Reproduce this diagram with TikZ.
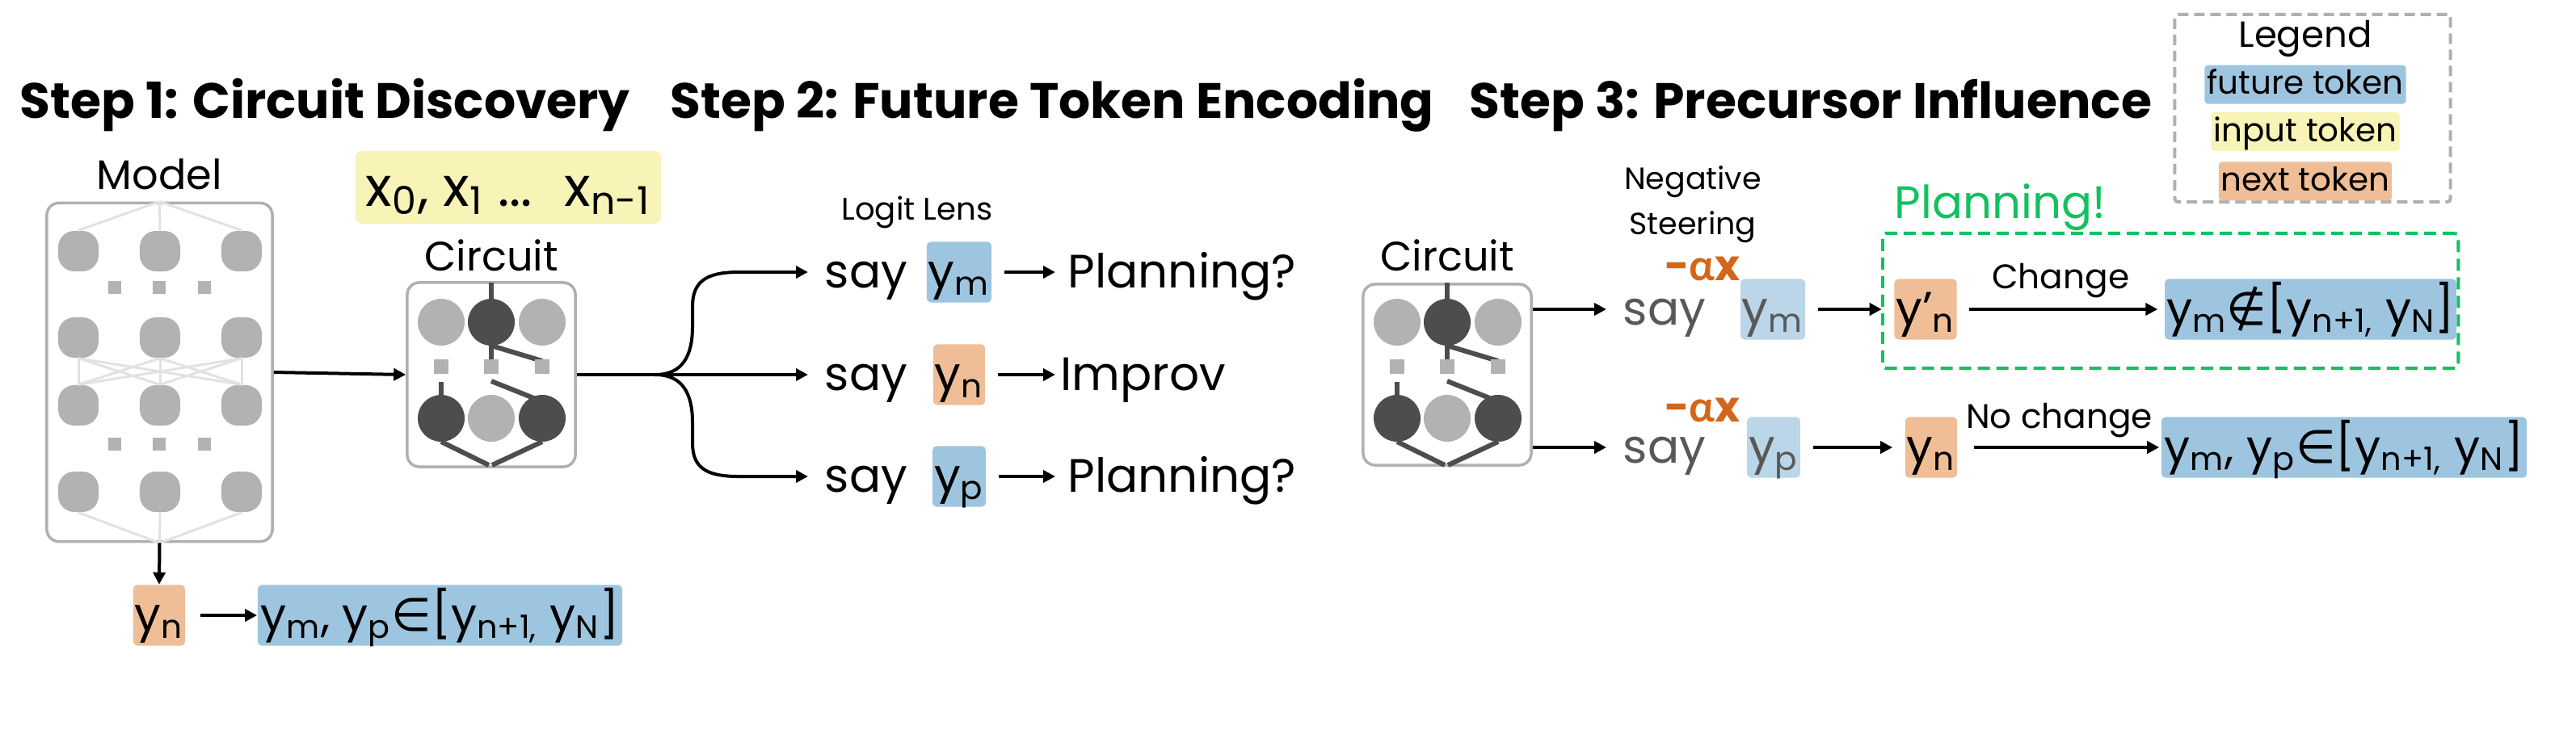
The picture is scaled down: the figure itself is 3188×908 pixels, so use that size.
\documentclass[tikz,border=0pt]{standalone}
\usepackage{fontspec}
\setmainfont{Poppins}
\newfontfamily\greekfont{Lato}
\newfontfamily\mathsymfont{DejaVu Sans}
\usetikzlibrary{arrows.meta,positioning,calc}

\definecolor{futblue}{RGB}{158,197,224}
\definecolor{paleblue}{RGB}{186,214,232}
\definecolor{inyellow}{RGB}{248,243,182}
\definecolor{nextorange}{RGB}{239,190,150}
\definecolor{plangreen}{RGB}{20,192,96}
\definecolor{steerorange}{RGB}{212,102,26}
\definecolor{dotgray}{RGB}{178,178,178}
\definecolor{darkdot}{RGB}{77,77,77}
\definecolor{wiregray}{RGB}{226,226,226}
\definecolor{framegray}{RGB}{176,176,176}
\definecolor{saygray}{RGB}{88,88,88}

% circuit icon, drawn round the centre of its frame
\tikzset{
  circuit/.pic={
    \draw[ckwire] (0,-114) -- (0,-65);
    \draw[ckwire] (0,-36) -- (0,-19);
    \draw[ckwire] (0,-36) -- (63,-17);
    \draw[ckwire] (-62,9) -- (-62,30);
    \draw[ckwire] (0,8) -- (60,32);
    \draw[ckwire] (-62,83) -- (-3,112);
    \draw[ckwire] (1,112) -- (63,83);
    \node[cklight] (-a1) at (-62,-65) {};
    \node[ckdark] (-a2) at (0,-65) {};
    \node[cklight] (-a3) at (63,-65) {};
    \node[cksq] (-s1) at (-62,-10) {};
    \node[cksq] (-s2) at (0,-10) {};
    \node[cksq] (-s3) at (63,-10) {};
    \node[ckdark] (-b1) at (-62,54) {};
    \node[cklight] (-b2) at (0,54) {};
    \node[ckdark] (-b3) at (63,54) {};
  }
}

\begin{document}
\begin{tikzpicture}[x=0.01cm, y=-0.01cm,
    steptitle/.style={anchor=base west, inner sep=0, font=\fontsize{17.5}{21}\selectfont\bfseries},
    boxlabel/.style={inner sep=0, font=\fontsize{14.5}{17}\selectfont},
    smalllabel/.style={inner sep=0, font=\fontsize{11}{16}\selectfont},
    iconframe/.style={draw=framegray, line width=0.035cm, rounded corners=0.15cm},
    mdot/.style={rectangle, rounded corners=0.2cm, fill=dotgray, minimum size=0.5cm, inner sep=0},
    msq/.style={rectangle, fill=dotgray, minimum size=0.16cm, inner sep=0},
    mwire/.style={draw=wiregray, line width=0.03cm},
    cklight/.style={circle, fill=dotgray, minimum size=0.58cm, inner sep=0},
    ckdark/.style={circle, fill=darkdot, minimum size=0.58cm, inner sep=0},
    cksq/.style={rectangle, fill=dotgray, minimum size=0.18cm, inner sep=0},
    ckwire/.style={draw=darkdot, line width=0.06cm},
    arr/.style={-{Triangle[length=0.15cm,width=0.15cm]}, line width=0.04cm},
    gaparr/.style={arr, shorten <=0.15cm, shorten >=0.15cm},
    rowtext/.style={inner xsep=0.2cm, inner ysep=0, text height=0.45cm, text depth=0.06cm, font=\fontsize{16.5}{20}\selectfont},
    tokbox/.style={rounded corners=0.05cm, inner xsep=0.02cm, inner ysep=0, text height=0.45cm, text depth=0.06cm, minimum height=0.75cm, font=\fontsize{16.5}{20}\selectfont},
    restok/.style={tokbox, fill=futblue, font=\fontsize{16.2}{20}\selectfont},
    legtok/.style={rounded corners=0.04cm, inner xsep=0.03cm, inner ysep=0, text height=0.3cm, text depth=0.06cm, minimum height=0.48cm, font=\fontsize{11.5}{14}\selectfont},
    dashbox/.style={line width=0.04cm, rounded corners=0.04cm},
    arrlabel/.style={inner sep=0, font=\fontsize{12}{14}\selectfont},
    steer/.style={anchor=base, inner sep=0, text=steerorange, font=\fontsize{15}{18}\selectfont\bfseries},
]
\useasboundingbox (0,0) rectangle (3188,908);

% Titles
\node[steptitle] (t1) at (24,146) {Step 1: Circuit Discovery};
\node[steptitle] (t2) at (829,146) {Step 2: Future Token Encoding};
\node[steptitle] (t3) at (1818,146) {Step 3: Precursor Influence};

% Legend
\node[dashbox, draw=framegray, dash pattern=on 0.13cm off 0.07cm, minimum width=3.41cm, minimum height=2.32cm] (legend) at (2862,134) {};
\node[boxlabel, anchor=base, font=\fontsize{12.8}{15}\selectfont] (legtitle) at (2853,58) {Legend};
\node[legtok, fill=futblue, below=0.09cm of legtitle] (legfut) {future token};
\node[legtok, fill=inyellow, below=0.09cm of legfut] (legin) {input token};
\node[legtok, fill=nextorange, below=0.12cm of legin] (legnext) {next token};

% Step 1: model
\node[iconframe, minimum width=2.79cm, minimum height=4.19cm] (model) at (197.5,461) {};
\node[boxlabel, above=0.14cm of model] (modellbl) {Model};
\foreach \x [count=\i] in {97,198,299} {
  \foreach \y [count=\j] in {311,418,502,609} {
    \node[mdot] (m\j\i) at (\x,\y) {};
  }
}
\foreach \x [count=\i] in {142,197,253} {
  \node[msq] (sa\i) at (\x,356) {};
  \node[msq] (sb\i) at (\x,550) {};
}
\foreach \i in {1,2,3} {
  \draw[mwire] (model.north) -- (m1\i.north);
  \draw[mwire] (m4\i.south) -- (model.south);
  \foreach \k in {1,2,3} \draw[mwire] (m2\i.south) -- (m3\k.north);
}

% Step 1: input tokens and circuit
\node[fill=inyellow, rounded corners=0.08cm, minimum width=3.78cm, minimum height=0.9cm, inner sep=0, text height=0.5cm, text depth=0.04cm, font=\fontsize{19.3}{23}\selectfont] (xin) at (629,232) {x\textsubscript{0}, x\textsubscript{1} ...\hspace{0.4cm}x\textsubscript{n-1}};
\node[iconframe, minimum width=2.08cm, minimum height=2.28cm] (circ1) at (608,464) {};
\node[boxlabel, above=0.12cm of circ1] (circ1lbl) {Circuit};
\pic (ck1) at (circ1.center) {circuit};
\draw[arr] (model.east) -- (circ1.west);

% Step 1: next token
\node[tokbox, fill=nextorange] (yn0) at (197,762) {y\textsubscript{n}};
\node[restok, minimum width=4.51cm] (fut0) at (544.5,762) {y\textsubscript{m}, y\textsubscript{p}{\mathsymfont ∈}[y\textsubscript{n+1,} y\textsubscript{N}]};
\draw[arr] (model.south) -- (yn0.north);
\draw[arr, shorten <=0.18cm] (yn0) -- (fut0);

% Step 2: logit lens
\coordinate (fork) at (811,464);
\node[smalllabel, anchor=base] (lens) at (1135,272) {Logit Lens};
\node[rowtext, anchor=west] (say1) at (1000,337) {say};
\node[rowtext, anchor=west] (say2) at (1000,464) {say};
\node[rowtext, anchor=west] (say3) at (1000,590) {say};
\node[tokbox, fill=futblue] (ym1) at (1187,337) {y\textsubscript{m}};
\node[tokbox, fill=nextorange] (yn1) at (1187,464) {y\textsubscript{n}};
\node[tokbox, fill=futblue] (yp1) at (1187,590) {y\textsubscript{p}};
\node[rowtext, anchor=west, inner xsep=0.15cm] (plan1) at (1306,337) {Planning?};
\node[rowtext, anchor=west, inner xsep=0.06cm] (imp1) at (1306,464) {Improv};
\node[rowtext, anchor=west, inner xsep=0.15cm] (plan2) at (1306,590) {Planning?};
\draw[line width=0.04cm] (circ1.east) -- (fork);
\draw[arr] (fork) .. controls (845,464) and (857,440) .. (857,405) -- (857,380)
  .. controls (857,350) and (872,337) .. (914,337) -- (say1);
\draw[arr] (fork) -- (say2);
\draw[arr] (fork) .. controls (845,464) and (857,488) .. (857,523) -- (857,548)
  .. controls (857,578) and (872,590) .. (914,590) -- (say3);
\draw[arr, shorten <=0.15cm] (ym1) -- (plan1);
\draw[arr, shorten <=0.15cm] (yn1) -- (imp1);
\draw[arr, shorten <=0.15cm] (yp1) -- (plan2);

% Step 3: circuit and steering
\node[iconframe, minimum width=2.08cm, minimum height=2.24cm] (circ2) at (1791,464) {};
\node[boxlabel, above=0.14cm of circ2] (circ2lbl) {Circuit};
\pic (ck2) at (circ2.center) {circuit};
\node[smalllabel, align=center, font=\fontsize{10.8}{16}\selectfont] (negsteer) at (2095,253) {Negative\\Steering};
\node[rowtext, anchor=west, text=saygray] (say4) at (1988,383) {say};
\node[rowtext, anchor=west, text=saygray] (say5) at (1988,554) {say};
\node[steer] (steer1) at (2107,347) {-{\greekfont\bfseries α}x};
\node[steer] (steer2) at (2107,522) {-{\greekfont\bfseries α}x};
\node[tokbox, fill=paleblue, text=saygray] (ym2) at (2194,383) {y\textsubscript{m}};
\node[tokbox, fill=paleblue, text=saygray] (yp2) at (2195,554) {y\textsubscript{p}};
\draw[arr] (say4 -| circ2.east) -- (say4);
\draw[arr] (say5 -| circ2.east) -- (say5);

% Step 3: outcomes
\node[dashbox, draw=plangreen, dash pattern=on 0.15cm off 0.08cm, minimum width=7.12cm, minimum height=1.67cm] (planbox) at (2686,372.5) {};
\node[inner sep=0, anchor=base west, text=plangreen, font=\fontsize{16}{19}\selectfont] (planlbl) at (2344,270) {Planning!};
\node[tokbox, fill=nextorange] (ynp) at (2383,383) {y’\textsubscript{n}};
\node[tokbox, fill=nextorange] (yn2) at (2390,554) {y\textsubscript{n}};
\node[restok, minimum width=3.57cm] (fut1) at (2859.5,383) {y\textsubscript{m}{\mathsymfont ∉}[y\textsubscript{n+1,} y\textsubscript{N}]};
\node[restok, minimum width=4.52cm] (fut2) at (2901,554) {y\textsubscript{m}, y\textsubscript{p}{\mathsymfont ∈}[y\textsubscript{n+1,} y\textsubscript{N}]};
\draw[gaparr] (ym2) -- (ynp);
\draw[gaparr] (yp2) -- (yn2);
\draw[arr, shorten <=0.15cm, shorten >=0.08cm] (ynp) -- node[arrlabel, above=0.12cm] (chg) {Change} (fut1);
\draw[arr, shorten <=0.2cm, shorten >=0.02cm] (yn2) -- node[arrlabel, above=0.1cm] (nochg) {No change} (fut2);

\end{tikzpicture}
\end{document}
